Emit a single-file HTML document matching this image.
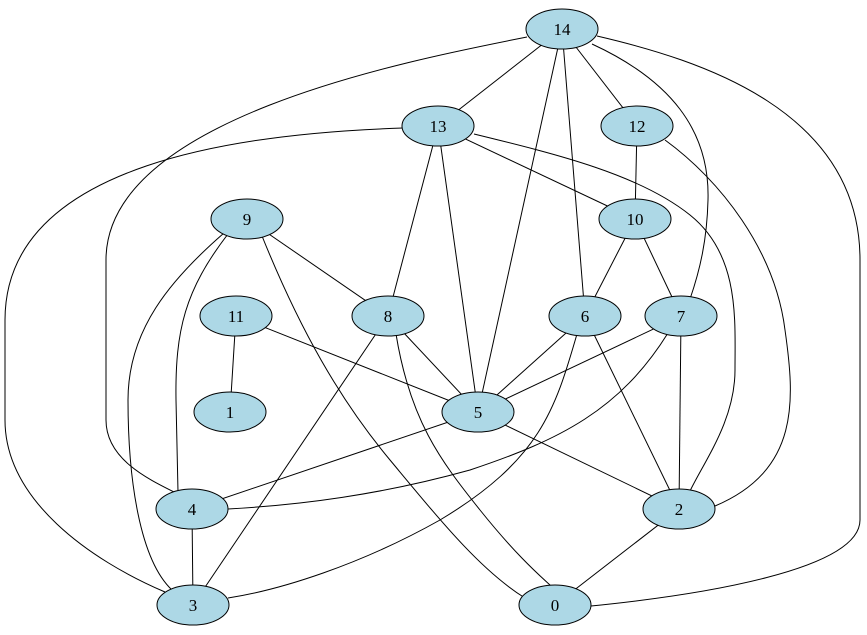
<!DOCTYPE html>
<html><head><style>body{margin:0;background:#fff}svg{display:block}</style></head>
<body>
<svg width="867" height="635" viewBox="0 0 867 635" xmlns="http://www.w3.org/2000/svg">
<g fill="none" stroke="#000" stroke-width="1">
<line x1="562" y1="29" x2="438" y2="126"/>
<line x1="562" y1="29" x2="637" y2="126"/>
<line x1="562" y1="29" x2="478" y2="412"/>
<line x1="562" y1="29" x2="585" y2="316"/>
<path d="M592,44 C670,80 710,130 708,200 C707,240 700,270 690,299"/>
<path d="M597,36 C700,60 860,110 860,260 L860,520 C860,570 700,595 591,606"/>
<path d="M527,37 C400,62 106,120 106,260 L106,420 C106,460 150,480 178,494"/>
<line x1="438" y1="126" x2="635" y2="219"/>
<line x1="438" y1="126" x2="388" y2="316"/>
<line x1="438" y1="126" x2="478" y2="412"/>
<path d="M474,134 C560,155 640,175 690,215 C740,255 735,320 735,370 C735,420 705,460 690,491"/>
<path d="M403,128 C250,133 5,160 5,320 L5,420 C5,500 90,560 165,592"/>
<line x1="637" y1="126" x2="635" y2="219"/>
<path d="M665,140 C720,180 775,250 785,330 C795,400 800,470 715,506"/>
<line x1="635" y1="219" x2="585" y2="316"/>
<line x1="635" y1="219" x2="681" y2="316"/>
<line x1="247" y1="219" x2="388" y2="316"/>
<path d="M262,236 C300,330 340,400 390,460 C440,520 480,570 525,598"/>
<path d="M228,234 C185,290 175,330 176,400 L178,492"/>
<path d="M224,233 C170,280 128,330 128,400 C128,480 140,560 172,590"/>
<line x1="236" y1="316" x2="478" y2="412"/>
<line x1="236" y1="316" x2="230" y2="412"/>
<line x1="388" y1="316" x2="478" y2="412"/>
<line x1="388" y1="316" x2="193" y2="605"/>
<path d="M396,334 C410,420 440,460 480,510 C520,560 545,580 552,587"/>
<line x1="585" y1="316" x2="478" y2="412"/>
<line x1="585" y1="316" x2="679" y2="509"/>
<path d="M577,334 C555,410 540,460 440,520 C360,565 280,590 228,598"/>
<line x1="681" y1="316" x2="478" y2="412"/>
<line x1="681" y1="316" x2="679" y2="509"/>
<path d="M668,333 C620,410 560,440 470,470 C380,495 300,505 228,509"/>
<line x1="478" y1="412" x2="192" y2="509"/>
<line x1="478" y1="412" x2="679" y2="509"/>
<line x1="192" y1="509" x2="193" y2="605"/>
<line x1="679" y1="509" x2="555" y2="605"/>
</g>
<g fill="#add8e6" stroke="#000" stroke-width="1">
<ellipse cx="562" cy="29" rx="36" ry="20"/>
<ellipse cx="438" cy="126" rx="36" ry="20"/>
<ellipse cx="637" cy="126" rx="36" ry="20"/>
<ellipse cx="635" cy="219" rx="36" ry="20"/>
<ellipse cx="247" cy="219" rx="36" ry="20"/>
<ellipse cx="236" cy="316" rx="36" ry="20"/>
<ellipse cx="388" cy="316" rx="36" ry="20"/>
<ellipse cx="585" cy="316" rx="36" ry="20"/>
<ellipse cx="681" cy="316" rx="36" ry="20"/>
<ellipse cx="230" cy="412" rx="36" ry="20"/>
<ellipse cx="478" cy="412" rx="36" ry="20"/>
<ellipse cx="192" cy="509" rx="36" ry="20"/>
<ellipse cx="679" cy="509" rx="36" ry="20"/>
<ellipse cx="193" cy="605" rx="36" ry="20"/>
<ellipse cx="555" cy="605" rx="36" ry="20"/>
</g>
<g font-family="Liberation Serif, serif" font-size="17" text-anchor="middle">
<text x="562" y="35">14</text>
<text x="438" y="132">13</text>
<text x="637" y="132">12</text>
<text x="635" y="225">10</text>
<text x="247" y="225">9</text>
<text x="236" y="322">11</text>
<text x="388" y="322">8</text>
<text x="585" y="322">6</text>
<text x="681" y="322">7</text>
<text x="230" y="418">1</text>
<text x="478" y="418">5</text>
<text x="192" y="515">4</text>
<text x="679" y="515">2</text>
<text x="193" y="611">3</text>
<text x="555" y="611">0</text>
</g>
</svg>
</body></html>
